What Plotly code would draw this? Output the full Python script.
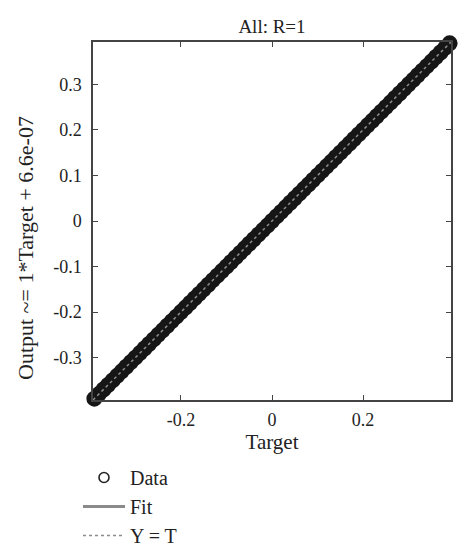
import plotly.graph_objects as go

# Data: targets and network outputs (R = 1)
targets = [-0.39, -0.38, -0.37, -0.36, -0.35, -0.34, -0.33, -0.32, -0.31, -0.30,
           -0.29, -0.28, -0.27, -0.26, -0.25, -0.24, -0.23, -0.22, -0.21, -0.20,
           -0.19, -0.18, -0.17, -0.16, -0.15, -0.14, -0.13, -0.12, -0.11, -0.10,
           -0.09, -0.08, -0.07, -0.06, -0.05, -0.04, -0.03, -0.02, -0.01, 0.00,
           0.01, 0.02, 0.03, 0.04, 0.05, 0.06, 0.07, 0.08, 0.09, 0.10,
           0.11, 0.12, 0.13, 0.14, 0.15, 0.16, 0.17, 0.18, 0.19, 0.20,
           0.21, 0.22, 0.23, 0.24, 0.25, 0.26, 0.27, 0.28, 0.29, 0.30,
           0.31, 0.32, 0.33, 0.34, 0.35, 0.36, 0.37, 0.38, 0.39]
outputs = [-0.39, -0.38, -0.37, -0.36, -0.35, -0.34, -0.33, -0.32, -0.31, -0.30,
           -0.29, -0.28, -0.27, -0.26, -0.25, -0.24, -0.23, -0.22, -0.21, -0.20,
           -0.19, -0.18, -0.17, -0.16, -0.15, -0.14, -0.13, -0.12, -0.11, -0.10,
           -0.09, -0.08, -0.07, -0.06, -0.05, -0.04, -0.03, -0.02, -0.01, 0.00,
           0.01, 0.02, 0.03, 0.04, 0.05, 0.06, 0.07, 0.08, 0.09, 0.10,
           0.11, 0.12, 0.13, 0.14, 0.15, 0.16, 0.17, 0.18, 0.19, 0.20,
           0.21, 0.22, 0.23, 0.24, 0.25, 0.26, 0.27, 0.28, 0.29, 0.30,
           0.31, 0.32, 0.33, 0.34, 0.35, 0.36, 0.37, 0.38, 0.39]
fit_slope = 1.0
fit_intercept = 6.6e-07
axis_range = [-0.393, 0.393]
x_ticks = [-0.2, 0, 0.2]
x_tick_labels = ["-0.2", "0", "0.2"]
y_ticks = [-0.3, -0.2, -0.1, 0, 0.1, 0.2, 0.3]
y_tick_labels = ["-0.3", "-0.2", "-0.1", "0", "0.1", "0.2", "0.3"]
y_title = "Output ~= 1*Target + 6.6e-07"

FONT = "Liberation Serif"
AX = "#444444"
TXT = "#222222"

fit_x = [axis_range[0], axis_range[1]]
fit_y = [fit_slope * v + fit_intercept for v in fit_x]

fig = go.Figure()
# Fit line (beneath the data)
fig.add_trace(go.Scatter(
    x=fit_x, y=fit_y, mode="lines", name="Fit", legendrank=2,
    line=dict(color="#8a8a8a", width=3),
))
# Data circles
fig.add_trace(go.Scatter(
    x=targets, y=outputs, mode="markers", name="Data", showlegend=False,
    marker=dict(symbol="circle-open", size=11, color="#161616",
                line=dict(width=5, color="#161616")),
    cliponaxis=False,
))
# Legend entry for data (small open circle)
fig.add_trace(go.Scatter(
    x=[None], y=[None], mode="markers", name="Data", legendrank=1,
    marker=dict(symbol="circle-open", size=10, color="#222222",
                line=dict(width=1.6, color="#222222")),
))
# Y = T dotted line on top
fig.add_trace(go.Scatter(
    x=fit_x, y=fit_x, mode="lines", name="Y = T", legendrank=3,
    line=dict(color="#8c8c8c", width=1.5, dash="dot"),
))

axis_common = dict(
    range=axis_range, showgrid=False, zeroline=False,
    showline=True, linecolor=AX, linewidth=1.5, mirror="ticks",
    ticks="inside", ticklen=5, tickcolor=AX, tickwidth=1,
    tickfont=dict(family=FONT, size=18, color=TXT),
)

fig.update_layout(
    width=474, height=559,
    margin=dict(l=93, r=23, t=42, b=159, autoexpand=False),
    paper_bgcolor="white", plot_bgcolor="white",
    font=dict(family=FONT, size=18, color=TXT),
    title=dict(text="All: R=1", x=272 / 474, xanchor="center",
               y=1 - 26 / 559, yanchor="middle",
               font=dict(family=FONT, size=19, color=TXT)),
    xaxis=dict(axis_common, tickvals=x_ticks, ticktext=x_tick_labels,
               ticklabelstandoff=3,
               title=dict(text="Target", standoff=5,
                          font=dict(family=FONT, size=21, color=TXT))),
    yaxis=dict(axis_common, tickvals=y_ticks, ticktext=y_tick_labels,
               ticklabelstandoff=6),
    legend=dict(x=78 / 474, xanchor="left", y=1 - 458 / 559, yanchor="top",
                xref="container", yref="container",
                font=dict(family=FONT, size=20, color=TXT),
                bgcolor="rgba(0,0,0,0)", tracegroupgap=0, itemwidth=42),
    showlegend=True,
    annotations=[dict(text=y_title, textangle=-90, xref="paper", yref="paper",
                      x=(25 - 93) / 358, y=(400 - 248) / 358,
                      xanchor="center", yanchor="middle", showarrow=False,
                      font=dict(family=FONT, size=22, color=TXT))],
)

fig.write_html("out.html")
